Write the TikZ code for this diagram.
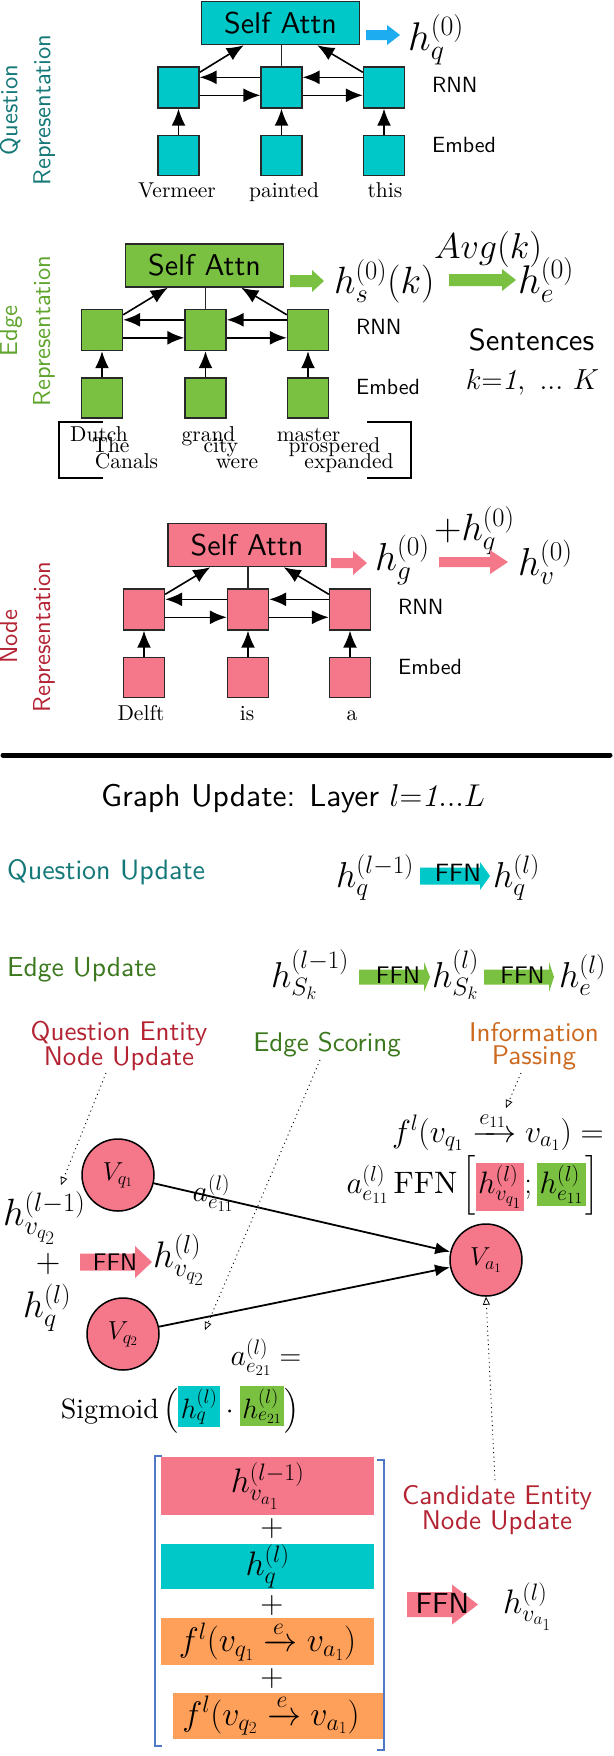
\RequirePackage{fix-cm}
\documentclass[tikz,border=0pt]{standalone}
\usepackage{amsmath}
\usepackage{fontspec}
\setmainfont{lmroman10-regular.otf}[ItalicFont=lmroman10-italic.otf, BoldFont=lmroman10-bold.otf]
\setsansfont{lmsans10-regular.otf}[ItalicFont=lmsans10-oblique.otf, BoldFont=lmsans10-bold.otf]
\usetikzlibrary{arrows.meta}
\definecolor{cyanf}{RGB}{0,200,200}
\definecolor{greenf}{RGB}{122,193,66}
\definecolor{pinkf}{RGB}{244,120,138}
\definecolor{orangef}{RGB}{255,160,90}
\definecolor{bluearr}{RGB}{30,172,240}
\definecolor{tealt}{RGB}{20,120,120}
\definecolor{greent}{RGB}{95,165,45}
\definecolor{dgreent}{RGB}{60,120,30}
\definecolor{redt}{RGB}{180,35,50}
\definecolor{oranget}{RGB}{205,105,30}
\definecolor{bracketb}{RGB}{80,120,200}
\definecolor{bordc}{RGB}{40,40,40}
\newcommand\myfs[2]{\fontsize{#1}{#2}\selectfont}
% block arrow: x1, x2(tip), xhead, cy, shaft half, head half, colour
\newcommand\blockarr[7]{\fill[#7] (#1,#4-#5) -- (#3,#4-#5) -- (#3,#4-#6) -- (#2,#4) -- (#3,#4+#6) -- (#3,#4+#5) -- (#1,#4+#5) -- cycle;}
\tikzset{
  rbox/.style={draw=bordc, line width=1.4pt, minimum width=41pt, minimum height=41pt, inner sep=0pt},
  sabox/.style={draw=bordc, line width=1.4pt, minimum width=158pt, minimum height=43pt, inner sep=0pt, font=\sffamily\myfs{30}{34}},
  arr/.style={line width=1.6pt, -{Latex[length=17pt,width=14pt]}},
  garr/.style={line width=1.8pt, -{Latex[length=15pt,width=12pt]}},
  dotarr/.style={line width=0.9pt, dash pattern=on 1pt off 3.5pt, -{Triangle[open,length=8pt,width=7pt,line width=0.8pt]}},
  lbl/.style={font=\sffamily\myfs{22}{26}, anchor=west, inner sep=0pt},
  word/.style={font=\myfs{21.5}{24}, anchor=base, inner sep=0pt},
  sidelbl/.style={font=\sffamily\myfs{24.5}{33}, rotate=90, align=center, inner sep=0pt},
  seclbl/.style={font=\sffamily\myfs{27}{23}, align=center, inner sep=0pt},
  mth/.style={anchor=base west, inner sep=0pt},
  ffn/.style={font=\sffamily\myfs{24}{28}, inner sep=0pt},
  circ/.style={circle, draw=black, fill=pinkf, line width=1.5pt, minimum size=72pt, inner sep=0pt, font=\myfs{26}{30}},
  stack/.style={inner sep=0pt, minimum width=213pt, font=\myfs{34}{38}},
}
% RNN section: prefix, colour, x1, x2, x3, SelfAttn centre y
\newcommand\rnnsec[6]{%
  \node[sabox, fill=#2] (#1sa) at (#4-1,#6) {Self Attn};
  \foreach \i/\xx in {1/#3,2/#4,3/#5} {
    \node[rbox, fill=#2] (#1r\i) at (\xx,#6+64.5) {};
    \node[rbox, fill=#2, minimum height=40pt] (#1e\i) at (\xx,#6+132.5) {};
    \draw[arr] (#1e\i.north) -- (#1r\i.south);
  }
  \draw[arr] ([yshift=-6pt]#1r1.north east) -- ([xshift=43pt]#1sa.south west);
  \draw[arr] ([yshift=-6pt]#1r3.north west) -- ([xshift=-43pt]#1sa.south east);
  \draw[line width=1.4pt, draw=bordc] (#1r2.north) -- (#1r2.north |- #1sa.south);
  \draw[arr] ([yshift=-11pt]#1r2.north west) -- ([yshift=-11pt]#1r1.north east);
  \draw[arr] ([yshift=-11pt]#1r3.north west) -- ([yshift=-11pt]#1r2.north east);
  \draw[arr] ([yshift=-29pt]#1r1.north east) -- ([yshift=-29pt]#1r2.north west);
  \draw[arr] ([yshift=-29pt]#1r2.north east) -- ([yshift=-29pt]#1r3.north west);
  \node[lbl] (#1rl) at (#5+48,#6+61.5) {RNN};
  \node[lbl] (#1el) at (#5+48,#6+121.5) {Embed};
}
\begin{document}
\begin{tikzpicture}[x=1pt,y=-1pt]
\useasboundingbox (0,0) rectangle (613,1756);
\fill[white] (0,0) rectangle (613,1756);

% ---------------- Question representation
\rnnsec{q}{cyanf}{178.5}{281.5}{384}{23}
\node[word] (w1) at (177,197) {Vermeer};
\node[word] (w2) at (284,197) {painted};
\node[word] (w3) at (385,197) {this};
\blockarr{366}{400}{387}{35}{5}{10}{bluearr}
\node[mth, font=\myfs{40}{44}] (hq0) at (408,50) {$h_q^{(0)}$};
\node[sidelbl, text=tealt] (qside) at (27.5,110) {Question\\Representation};

% ---------------- Edge representation
\rnnsec{e}{greenf}{102}{205.5}{308}{265.5}
\node[word] (d1) at (99,441) {Dutch};
\node[word] (d2) at (111,452) {The};
\node[word] (d3) at (126.5,468) {Canals};
\node[word] (g1) at (208.5,441) {grand};
\node[word] (g2) at (221,452) {city};
\node[word] (g3) at (237,468) {were};
\node[word] (m1) at (308.5,441) {master};
\node[word] (m2) at (334.5,452) {prospered};
\node[word] (m3) at (349,468) {expanded};
\draw[line width=1.8pt] (103,422) -- (59,422) -- (59,478) -- (103,478);
\draw[line width=1.8pt] (367,422) -- (411,422) -- (411,478) -- (367,478);
\blockarr{290}{324}{312}{281}{6}{11}{greenf}
\node[mth, font=\myfs{38}{42}] (hs0) at (334,293) {$h_s^{(0)}(k)$};
\node[mth, font=\myfs{36}{40}] (avg) at (434,258) {$Avg(k)$};
\blockarr{449}{516}{502}{280}{6}{11}{greenf}
\node[mth, font=\myfs{40}{44}] (he0) at (518,293) {$h_e^{(0)}$};
\node[font=\sffamily\myfs{30.5}{34}, inner sep=0pt] (sent) at (531.5,340) {Sentences};
\node[font=\myfs{29}{32}, inner sep=0pt] (kk) at (532.5,382) {$k{=}\mathit{1,\ ...}\ K$};
\node[sidelbl, text=greent] (eside) at (27.5,331) {Edge\\Representation};

% ---------------- Node representation
\rnnsec{n}{pinkf}{144}{248}{350}{545}
\node[word] (n1) at (141,720) {Delft};
\node[word] (n2) at (247,720) {is};
\node[word] (n3) at (352,720) {a};
\blockarr{331}{367}{353}{563}{5}{12}{pinkf}
\node[mth, font=\myfs{39}{43}] (hg0) at (375,570) {$h_g^{(0)}$};
\node[mth, font=\myfs{38}{42}] (phq) at (434,540) {$+h_q^{(0)}$};
\blockarr{439}{508}{490}{562}{5}{12}{pinkf}
\node[mth, font=\myfs{39}{43}] (hv0) at (518,575) {$h_v^{(0)}$};
\node[sidelbl, text=redt] (nside) at (27.5,637) {Node\\Representation};

% ---------------- separator
\coordinate (sepl) at (3,755);
\coordinate (sepr) at (610,755);
\draw[line width=5pt, line cap=round] (sepl) -- (sepr);

% ---------------- Graph update
\node[font=\sffamily\myfs{31.5}{36}, inner sep=0pt] (gu) at (293,799) {Graph Update: Layer $l{=}\mathit{1...}L$};

\node[anchor=west, font=\sffamily\myfs{28}{32}, text=tealt, inner sep=0pt] (qu) at (7,872) {Question Update};
\node[mth, font=\myfs{36}{40}] (hql1) at (336,887) {$h_q^{(l-1)}$};
\blockarr{420}{490}{480}{876}{8.5}{14}{cyanf}
\node[ffn, font=\sffamily\myfs{25}{28}] (ffnq) at (458,873) {FFN};
\node[mth, font=\myfs{36}{40}] (hql) at (493,887) {$h_q^{(l)}$};

\node[anchor=west, font=\sffamily\myfs{27.5}{32}, text=dgreent, inner sep=0pt] (eu) at (7,970) {Edge Update};
\node[mth, font=\myfs{36}{40}] (hsl1) at (271,987) {$h_{S_k}^{(l-1)}$};
\blockarr{359}{430}{424}{977}{7.5}{15}{greenf}
\node[ffn] (ffne1) at (398,975) {FFN};
\node[mth, font=\myfs{36}{40}] (hsl) at (432,987) {$h_{S_k}^{(l)}$};
\blockarr{484}{554}{549}{977}{7.5}{15}{greenf}
\node[ffn] (ffne2) at (522.5,975) {FFN};
\node[mth, font=\myfs{36}{40}] (hel) at (559,987) {$h_e^{(l)}$};

% ---------------- section labels
\node[seclbl, text=redt] (qenu) at (119,1046) {Question Entity\\Node Update};
\node[seclbl, text=dgreent] (es) at (327,1045) {Edge Scoring};
\node[seclbl, text=oranget] (ip) at (534,1046) {Information\\Passing};

% ---------------- graph
\node[circ] (vq1) at (118,1175) {$V_{q_1}$};
\node[circ] (vq2) at (123,1334) {$V_{q_2}$};
\node[circ] (va1) at (486,1260) {$V_{a_1}$};
\draw[garr] (vq1) -- (va1);
\draw[garr] (vq2) -- (va1);
\node[font=\myfs{30}{34}, inner sep=0pt] (ae11) at (213,1193) {$a_{e_{11}}^{(l)}$};

\node[anchor=base east, inner sep=0pt, font=\myfs{32}{36}] (fl) at (604,1142) {$f^l(v_{q_1}\xrightarrow{e_{11}}v_{a_1})=$};
\node[anchor=base east, inner sep=0pt, font=\myfs{31}{36}] (ffnl) at (599,1193) {\setlength{\fboxsep}{2.5pt}$a_{e_{11}}^{(l)}\,\mathrm{FFN}\left[\colorbox{pinkf}{$h_{v_{q_1}}^{(l)}$};\colorbox{greenf}{$h_{e_{11}}^{(l)}$}\right]$};

\node[mth, font=\myfs{38}{42}] (hvq2l1) at (3,1225) {$h_{v_{q_2}}^{(l-1)}$};
\node[font=\myfs{34}{38}, inner sep=0pt] (plq) at (48,1264) {$+$};
\blockarr{80}{152}{135}{1262}{8.5}{16}{pinkf}
\node[ffn] (ffnv) at (115,1262) {FFN};
\node[mth, font=\myfs{37}{41}] (hvq2l) at (153,1267) {$h_{v_{q_2}}^{(l)}$};
\node[mth, font=\myfs{37}{41}] (hqlb) at (23,1317) {$h_q^{(l)}$};

\node[font=\myfs{30}{34}, inner sep=0pt] (ae21) at (266,1357) {$a_{e_{21}}^{(l)}=$};
\node[font=\myfs{28}{32}, inner sep=0pt] (sig) at (180,1410) {\setlength{\fboxsep}{2.5pt}$\mathrm{Sigmoid}\left(\colorbox{cyanf}{$h_q^{(l)}$}\cdot\colorbox{greenf}{$h_{e_{21}}^{(l)}$}\right)$};

\node[seclbl, text=redt] (cenu) at (497,1510) {Candidate Entity\\Node Update};

% dotted pointers
\coordinate (p1s) at (106,1073); \coordinate (p1e) at (61,1185);
\coordinate (p2s) at (320,1060); \coordinate (p2e) at (205,1330);
\coordinate (p3s) at (521,1073); \coordinate (p3e) at (506,1108);
\coordinate (p4s) at (495,1480);
\draw[dotarr] (p1s) -- (p1e);
\draw[dotarr] (p2s) -- (p2e);
\draw[dotarr] (p3s) -- (p3e);
\draw[dotarr] (p4s) -- (va1.south);

% ---------------- candidate update stack
\node[stack, fill=pinkf, minimum height=58pt] (sk1) at (267.5,1486) {$h_{v_{a_1}}^{(l-1)}$};
\node[font=\myfs{32}{36}, inner sep=0pt] (pl1) at (272,1528) {$+$};
\node[stack, fill=cyanf, minimum height=45pt] (sk2) at (267.5,1566.5) {$h_q^{(l)}$};
\node[font=\myfs{32}{36}, inner sep=0pt] (pl2) at (272,1605) {$+$};
\node[stack, fill=orangef, minimum height=47pt] (sk3) at (267.5,1641.5) {$f^l(v_{q_1}\xrightarrow{e}v_{a_1})$};
\node[font=\myfs{32}{36}, inner sep=0pt] (pl3) at (272,1678) {$+$};
\node[stack, fill=orangef, minimum width=210pt, minimum height=46pt] (sk4) at (278,1716) {};
\node[font=\myfs{34}{38}, inner sep=0pt] (sk4t) at (271,1715) {$f^l(v_{q_2}\xrightarrow{e}v_{a_1})$};
\draw[bracketb, line width=1.5pt] (162,1456) -- (155,1456) -- (155,1746) -- (162,1746);
\draw[bracketb, line width=1.5pt] (377,1460) -- (384,1460) -- (384,1750) -- (377,1750);

\blockarr{407}{478}{452}{1604.5}{12.5}{20}{pinkf}
\node[ffn, font=\sffamily\myfs{29}{32}] (ffna) at (442.5,1603) {FFN};
\node[mth, font=\myfs{34}{38}] (hva1) at (503,1613) {$h_{v_{a_1}}^{(l)}$};
\end{tikzpicture}
\end{document}
